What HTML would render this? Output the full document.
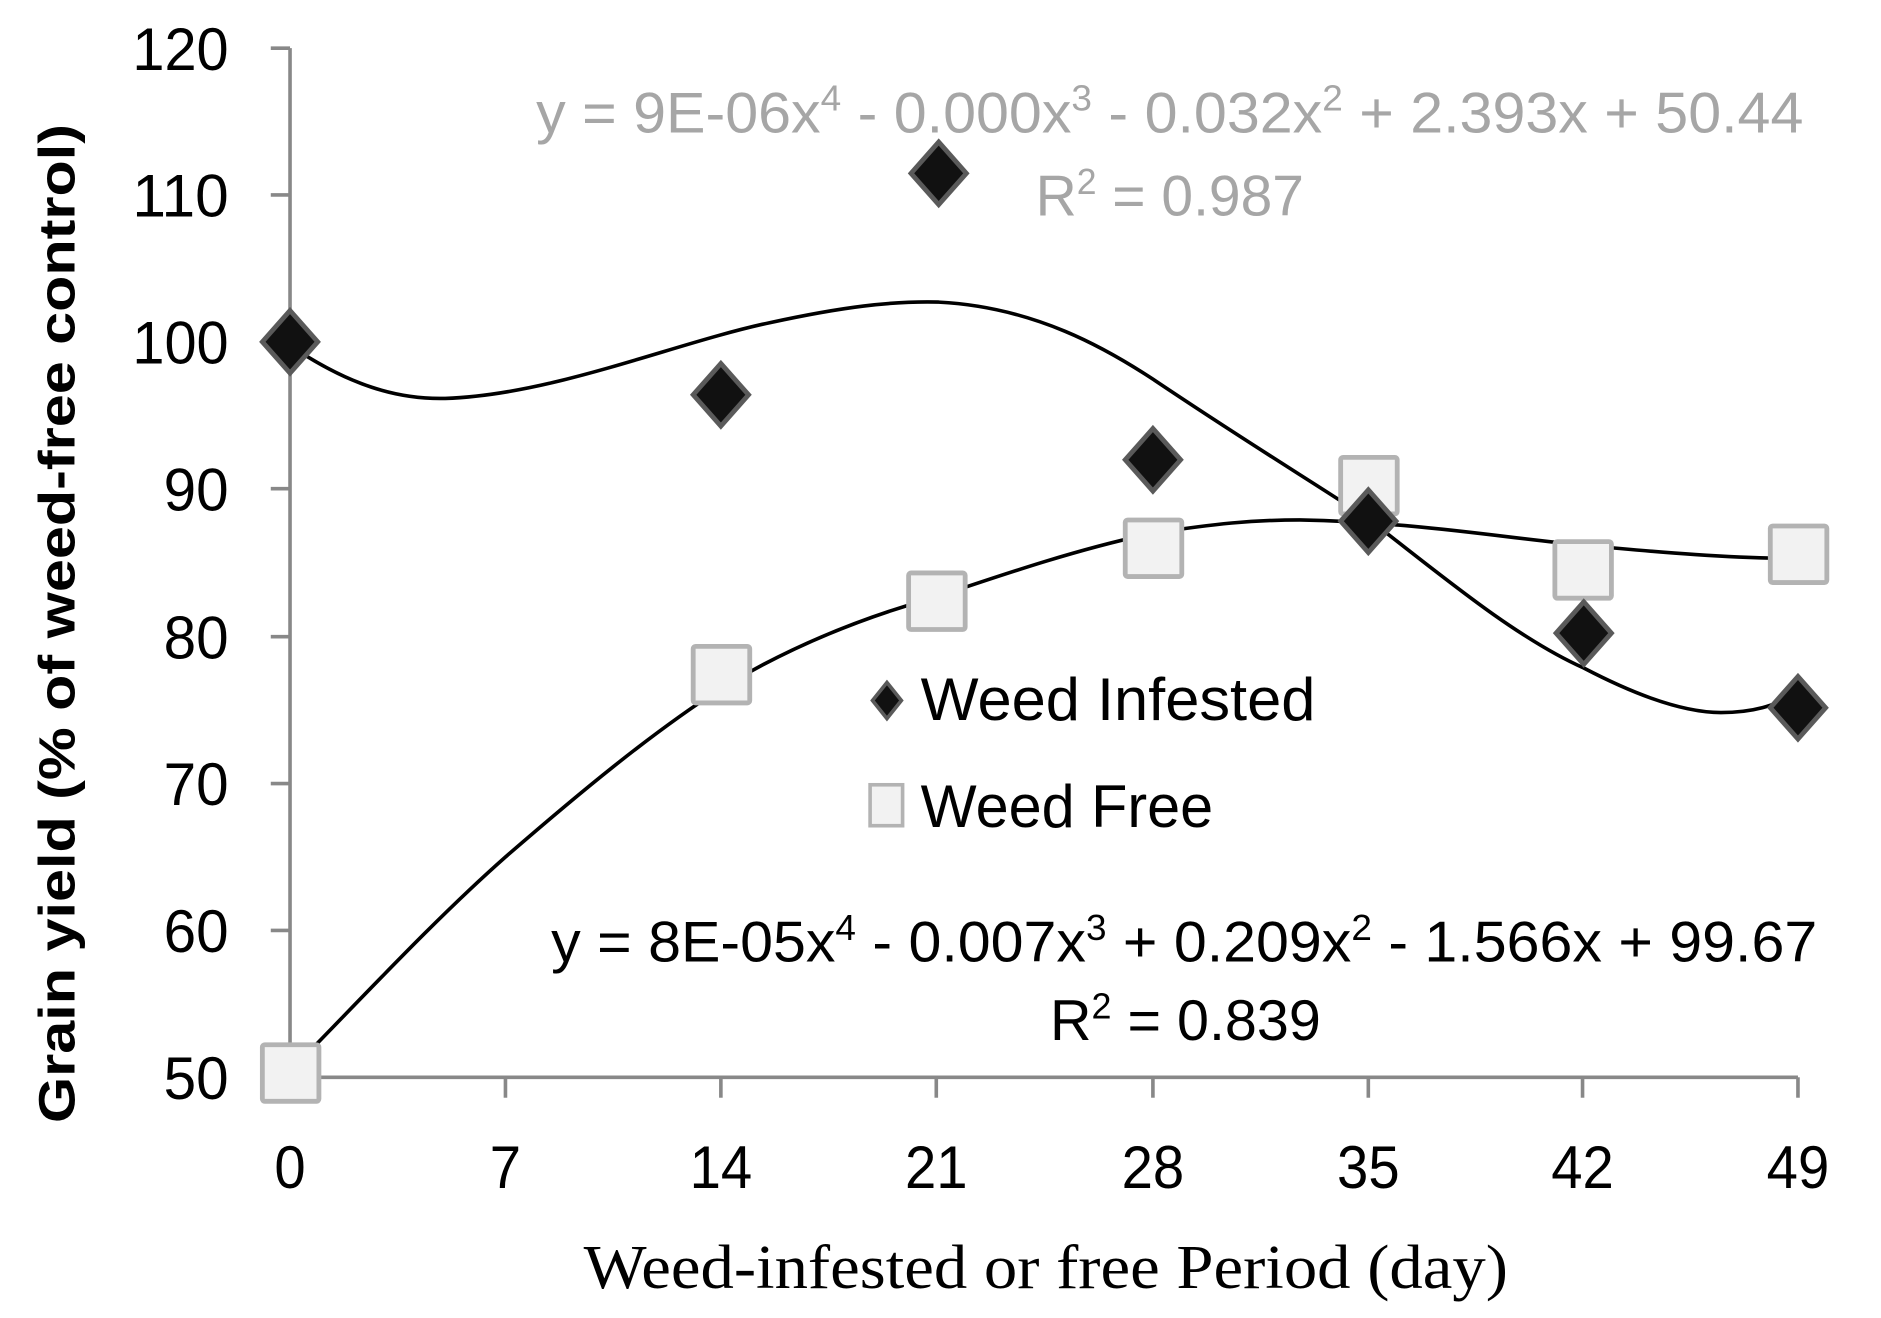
<!DOCTYPE html>
<html><head><meta charset="utf-8"><style>html,body{margin:0;padding:0;background:#fff}svg{display:block}</style></head>
<body>
<svg width="1881" height="1318" viewBox="0 0 1563 1095" preserveAspectRatio="none" xmlns="http://www.w3.org/2000/svg">
<rect width="1563" height="1095" fill="#fff"/>
<g stroke="#888" stroke-width="3" fill="none">
<line x1="241" y1="40" x2="241" y2="895"/>
<line x1="241" y1="895" x2="1494" y2="895"/>
<line x1="225" y1="40" x2="241" y2="40"/>
<line x1="225" y1="162" x2="241" y2="162"/>
<line x1="225" y1="284" x2="241" y2="284"/>
<line x1="225" y1="406" x2="241" y2="406"/>
<line x1="225" y1="529" x2="241" y2="529"/>
<line x1="225" y1="651" x2="241" y2="651"/>
<line x1="225" y1="773" x2="241" y2="773"/>
<line x1="225" y1="895" x2="241" y2="895"/>
<line x1="420" y1="895" x2="420" y2="912"/>
<line x1="599" y1="895" x2="599" y2="912"/>
<line x1="778" y1="895" x2="778" y2="912"/>
<line x1="958" y1="895" x2="958" y2="912"/>
<line x1="1137" y1="895" x2="1137" y2="912"/>
<line x1="1315" y1="895" x2="1315" y2="912"/>
<line x1="1494" y1="895" x2="1494" y2="912"/>
</g>
<g font-family="Liberation Sans, sans-serif" font-size="50" fill="#000" text-anchor="end">
<text x="190" y="58" textLength="80" lengthAdjust="spacingAndGlyphs">120</text>
<text x="190" y="180" textLength="80" lengthAdjust="spacingAndGlyphs">110</text>
<text x="190" y="302" textLength="80" lengthAdjust="spacingAndGlyphs">100</text>
<text x="190" y="424" textLength="54" lengthAdjust="spacingAndGlyphs">90</text>
<text x="190" y="547" textLength="54" lengthAdjust="spacingAndGlyphs">80</text>
<text x="190" y="669" textLength="54" lengthAdjust="spacingAndGlyphs">70</text>
<text x="190" y="791" textLength="54" lengthAdjust="spacingAndGlyphs">60</text>
<text x="190" y="913" textLength="54" lengthAdjust="spacingAndGlyphs">50</text>
</g>
<g font-family="Liberation Sans, sans-serif" font-size="50" fill="#000" text-anchor="middle">
<text x="241" y="987" textLength="26" lengthAdjust="spacingAndGlyphs">0</text>
<text x="420" y="987" textLength="26" lengthAdjust="spacingAndGlyphs">7</text>
<text x="599" y="987" textLength="52" lengthAdjust="spacingAndGlyphs">14</text>
<text x="778" y="987" textLength="52" lengthAdjust="spacingAndGlyphs">21</text>
<text x="958" y="987" textLength="52" lengthAdjust="spacingAndGlyphs">28</text>
<text x="1137" y="987" textLength="52" lengthAdjust="spacingAndGlyphs">35</text>
<text x="1315" y="987" textLength="52" lengthAdjust="spacingAndGlyphs">42</text>
<text x="1494" y="987" textLength="52" lengthAdjust="spacingAndGlyphs">49</text>
</g>
<text x="869" y="1070" font-family="Liberation Serif, serif" font-size="52" text-anchor="middle" textLength="768" lengthAdjust="spacingAndGlyphs">Weed-infested or free Period (day)</text>
<text transform="translate(62,518) rotate(-90)" font-family="Liberation Sans, sans-serif" font-weight="bold" font-size="42" text-anchor="middle" textLength="830" lengthAdjust="spacingAndGlyphs">Grain yield  (% of weed-free control)</text>
<!-- curves -->
<path d="M241,287 C290,320 330,332 370,331 C460,328 560,285 640,268 C700,255 740,250 780,251 C860,255 920,290 958,315 C1040,370 1090,400 1137,431 C1200,480 1260,530 1316,555 C1360,578 1400,592 1430,592 C1460,592 1475,585 1494,577" fill="none" stroke="#000" stroke-width="3"/>
<path d="M241,890 C300,830 360,765 420,712 C480,660 540,610 599,572 C660,535 720,512 778,496 C840,475 900,455 958,443 C1010,435 1040,432 1080,432 C1180,434 1250,447 1316,453 C1380,459 1440,464 1494,464" fill="none" stroke="#000" stroke-width="3"/>
<!-- weed free squares -->
<g fill="#f2f2f2" stroke="#b3b3b3" stroke-width="4">
<rect x="218" y="868" width="47" height="47" rx="2"/>
<rect x="576" y="537" width="47" height="47" rx="2"/>
<rect x="755" y="476" width="47" height="47" rx="2"/>
<rect x="935" y="432" width="47" height="47" rx="2"/>
<rect x="1114" y="380" width="47" height="47" rx="2"/>
<rect x="1292" y="450" width="47" height="47" rx="2"/>
<rect x="1471" y="437" width="47" height="47" rx="2"/>
</g>
<!-- weed infested diamonds -->
<g fill="#111" stroke="#5a5a5a" stroke-width="4">
<path d="M241,258 l23,26 l-23,26 l-23,-26z"/>
<path d="M599,302 l23,26 l-23,26 l-23,-26z"/>
<path d="M780,118 l23,26 l-23,26 l-23,-26z"/>
<path d="M958,356 l23,26 l-23,26 l-23,-26z"/>
<path d="M1137,407 l23,26 l-23,26 l-23,-26z"/>
<path d="M1316,500 l23,26 l-23,26 l-23,-26z"/>
<path d="M1494,562 l23,26 l-23,26 l-23,-26z"/>
</g>
<!-- legend -->
<path d="M737,567 l12,15 l-12,15 l-12,-15z" fill="#111" stroke="#5a5a5a" stroke-width="3"/>
<rect x="723" y="652" width="27" height="34" fill="#f2f2f2" stroke="#b3b3b3" stroke-width="3"/>
<g font-family="Liberation Sans, sans-serif" font-size="50" fill="#000">
<text x="765" y="598" textLength="328" lengthAdjust="spacingAndGlyphs">Weed Infested</text>
<text x="765" y="687" textLength="243" lengthAdjust="spacingAndGlyphs">Weed Free</text>
</g>
<!-- equations -->
<g font-family="Liberation Sans, sans-serif" font-size="48" fill="#a6a6a6" text-anchor="middle">
<text x="972" y="110" textLength="1053" lengthAdjust="spacingAndGlyphs">y = 9E-06x<tspan font-size="30" dy="-18">4</tspan><tspan dy="18"> - 0.000x</tspan><tspan font-size="30" dy="-18">3</tspan><tspan dy="18"> - 0.032x</tspan><tspan font-size="30" dy="-18">2</tspan><tspan dy="18"> + 2.393x + 50.44</tspan></text>
<text x="972" y="179" textLength="223" lengthAdjust="spacingAndGlyphs">R<tspan font-size="30" dy="-18">2</tspan><tspan dy="18"> = 0.987</tspan></text>
</g>
<g font-family="Liberation Sans, sans-serif" font-size="48" fill="#000" text-anchor="middle">
<text x="984" y="799" textLength="1052" lengthAdjust="spacingAndGlyphs">y = 8E-05x<tspan font-size="30" dy="-18">4</tspan><tspan dy="18"> - 0.007x</tspan><tspan font-size="30" dy="-18">3</tspan><tspan dy="18"> + 0.209x</tspan><tspan font-size="30" dy="-18">2</tspan><tspan dy="18"> - 1.566x + 99.67</tspan></text>
<text x="985" y="864" textLength="225" lengthAdjust="spacingAndGlyphs">R<tspan font-size="30" dy="-18">2</tspan><tspan dy="18"> = 0.839</tspan></text>
</g>
</svg>
</body></html>
